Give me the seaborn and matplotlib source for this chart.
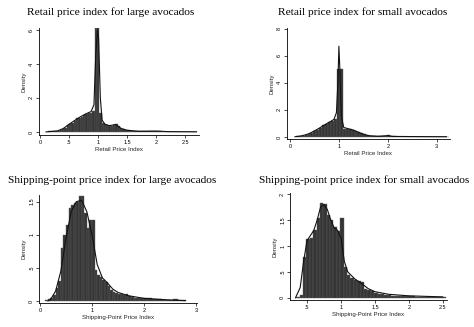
import numpy as np
import pandas as pd
import matplotlib
matplotlib.use("Agg")
import matplotlib.pyplot as plt
from matplotlib.ticker import FuncFormatter, FixedLocator
import seaborn as sns

# ---- Retail price index, large avocados ----
retail_large_start, retail_large_width = 0.14, 0.04
retail_large_density = [
    0.03, 0.03, 0.03, 0.04, 0.06, 0.10, 0.16, 0.26, 0.40, 0.46,
    0.52, 0.62, 0.82, 0.84, 0.90, 1.02, 1.05, 1.12, 1.14, 1.22,
    6.10, 6.20, 1.12, 0.52, 0.45, 0.40, 0.36, 0.33, 0.40, 0.48,
    0.35, 0.22, 0.16, 0.12, 0.09, 0.07, 0.05, 0.04, 0.04, 0.03,
    0.03, 0.03, 0.03, 0.03, 0.03, 0.04, 0.06, 0.05, 0.03, 0.02,
    0.02, 0.02, 0.02, 0.02, 0.02, 0.02, 0.01, 0.02, 0.01, 0.01,
    0.01, 0.01, 0.01, 0.01,
]
retail_large_kde_x = [0.10, 0.20, 0.30, 0.40, 0.50, 0.60, 0.70, 0.80, 0.88, 0.93,
                      0.96, 0.99, 1.01, 1.04, 1.07, 1.12, 1.20, 1.30, 1.40, 1.50,
                      1.70, 2.00, 2.20, 2.70]
retail_large_kde_y = [0.00, 0.03, 0.06, 0.20, 0.45, 0.68, 0.90, 1.08, 1.20, 1.60,
                      4.50, 6.00, 5.50, 2.00, 0.70, 0.45, 0.37, 0.44, 0.20, 0.10,
                      0.04, 0.05, 0.02, 0.01]

# ---- Retail price index, small avocados ----
retail_small_start, retail_small_width = 0.12, 0.06
retail_small_density = [
    0.04, 0.05, 0.10, 0.15, 0.22, 0.30, 0.46, 0.55, 0.68, 0.85,
    0.95, 1.08, 1.18, 1.30, 5.05, 5.05, 0.62, 0.60, 0.58, 0.52,
    0.45, 0.36, 0.28, 0.20, 0.12, 0.08, 0.06, 0.05, 0.04, 0.05,
    0.08, 0.12, 0.07, 0.04, 0.03, 0.03, 0.03, 0.03, 0.03, 0.03,
    0.03, 0.03, 0.03, 0.02, 0.02, 0.02, 0.03, 0.02, 0.02, 0.02,
    0.02, 0.02,
]
retail_small_kde_x = [0.10, 0.20, 0.30, 0.40, 0.50, 0.60, 0.70, 0.80, 0.90, 0.95,
                      0.98, 1.00, 1.02, 1.05, 1.10, 1.20, 1.30, 1.40, 1.50, 1.60,
                      1.80, 2.00, 2.10, 2.50, 3.20]
retail_small_kde_y = [0.02, 0.06, 0.14, 0.26, 0.45, 0.65, 0.88, 1.08, 1.30, 1.80,
                      4.00, 6.70, 5.00, 1.50, 0.70, 0.60, 0.50, 0.35, 0.20, 0.10,
                      0.05, 0.10, 0.04, 0.03, 0.02]

# ---- Shipping-point price index, large avocados ----
ship_large_start, ship_large_width = 0.10, 0.05
ship_large_density = [
    0.01, 0.03, 0.05, 0.09, 0.20, 0.30, 0.80, 1.00, 1.15, 1.40,
    1.45, 1.48, 1.50, 1.59, 1.59, 1.33, 1.10, 1.23, 1.23, 0.47,
    0.40, 0.36, 0.32, 0.29, 0.22, 0.16, 0.13, 0.12, 0.11, 0.10,
    0.09, 0.10, 0.08, 0.06, 0.05, 0.05, 0.04, 0.04, 0.05, 0.04,
    0.04, 0.03, 0.03, 0.03, 0.03, 0.02, 0.02, 0.02, 0.02, 0.03,
    0.03, 0.02, 0.01, 0.01,
]
ship_large_kde_x = [0.15, 0.20, 0.30, 0.40, 0.50, 0.60, 0.70, 0.80, 0.90, 1.00,
                    1.10, 1.20, 1.30, 1.40, 1.50, 1.70, 2.00, 2.40, 2.80]
ship_large_kde_y = [0.00, 0.02, 0.15, 0.45, 0.95, 1.35, 1.50, 1.52, 1.35, 1.00,
                    0.55, 0.35, 0.27, 0.18, 0.13, 0.08, 0.04, 0.02, 0.005]

# ---- Shipping-point price index, small avocados ----
ship_small_start, ship_small_width = 0.34, 0.05
ship_small_density = [
    0.02, 0.05, 0.78, 1.13, 1.16, 1.31, 1.53, 1.82, 1.80, 1.60,
    1.50, 1.37, 1.28, 1.53, 0.60, 0.45, 0.38, 0.35, 0.33, 0.30,
    0.18, 0.16, 0.14, 0.10, 0.08, 0.07, 0.06, 0.05, 0.04, 0.04,
    0.04, 0.04, 0.03, 0.03, 0.03, 0.02, 0.02, 0.02, 0.02, 0.02,
    0.02, 0.02, 0.01, 0.01,
]
ship_small_kde_x = [0.33, 0.40, 0.45, 0.50, 0.55, 0.60, 0.65, 0.70, 0.75, 0.80,
                    0.85, 0.90, 0.95, 1.00, 1.05, 1.10, 1.20, 1.30, 1.40, 1.50,
                    1.70, 2.00, 2.50]
ship_small_kde_y = [0.00, 0.20, 0.70, 1.10, 1.20, 1.30, 1.50, 1.75, 1.80, 1.70,
                    1.50, 1.35, 1.30, 1.15, 0.70, 0.50, 0.37, 0.28, 0.18, 0.12,
                    0.07, 0.04, 0.02]

titles = [
    "Retail price index for large avocados",
    "Retail price index for small avocados",
    "Shipping-point price index for large avocados",
    "Shipping-point price index for small avocados",
]
xlabels = ["Retail Price Index", "Retail Price Index",
           "Shipping-Point Price Index", "Shipping-Point Price Index"]
xticks = [[0, 0.5, 1, 1.5, 2, 2.5], [0, 1, 2, 3], [0, 1, 2, 3], [0.5, 1, 1.5, 2, 2.5]]
yticks = [[0, 2, 4, 6], [0, 2, 4, 6, 8], [0, 0.5, 1, 1.5], [0, 0.5, 1, 1.5, 2]]

panels = [
    (retail_large_start, retail_large_width, retail_large_density,
     retail_large_kde_x, retail_large_kde_y),
    (retail_small_start, retail_small_width, retail_small_density,
     retail_small_kde_x, retail_small_kde_y),
    (ship_large_start, ship_large_width, ship_large_density,
     ship_large_kde_x, ship_large_kde_y),
    (ship_small_start, ship_small_width, ship_small_density,
     ship_small_kde_x, ship_small_kde_y),
]

# axes rectangles (figure fractions) and data limits
W, H = 474, 327
rects = [
    (39 / W, 1 - 135 / H, 160 / W, 107 / H),
    (287 / W, 1 - 139 / H, 163 / W, 111 / H),
    (39 / W, 1 - 303 / H, 158 / W, 108 / H),
    (290 / W, 1 - 300 / H, 157 / W, 107 / H),
]
xlims = [(-0.017, 2.74), (-0.06, 3.27), (-0.02, 3.02), (0.25, 2.56)]
ylims = [(-0.18, 6.12), (-0.15, 8.05), (-0.03, 1.6), (-0.04, 2.02)]
title_pos = [(111, 12), (363, 12), (112, 180), (364, 180)]

sns.set_theme(style="white")
plt.rcParams["font.family"] = ["Liberation Sans", "DejaVu Sans"]

fig = plt.figure(figsize=(W / 100, H / 100), dpi=100)
fig.patch.set_facecolor("white")


def stata_fmt(v, _pos):
    s = f"{v:g}"
    if s.startswith("0."):
        s = s[1:]
    return s


for i, (start, width, dens, kx, ky) in enumerate(panels):
    ax = fig.add_axes(rects[i])
    n = len(dens)
    edges = list(start + width * np.arange(n + 1))
    centers = [(a + b) / 2 for a, b in zip(edges[:-1], edges[1:])]
    hist_df = pd.DataFrame({"index": centers, "density": dens})
    sns.histplot(data=hist_df, x="index", weights="density", bins=edges,
                 stat="count", color="#353535", edgecolor="#5e5e5e",
                 linewidth=0.3, alpha=1.0, ax=ax)
    kde_df = pd.DataFrame({"index": kx, "density": ky})
    sns.lineplot(data=kde_df, x="index", y="density", color="#111111",
                 linewidth=0.8, ax=ax, sort=False)
    ax.set_xlim(*xlims[i])
    ax.set_ylim(*ylims[i])
    ax.set_facecolor("white")
    for side in ("top", "right"):
        ax.spines[side].set_visible(False)
    for side in ("left", "bottom"):
        ax.spines[side].set_color("black")
        ax.spines[side].set_linewidth(0.6)
    ax.xaxis.set_major_locator(FixedLocator(xticks[i]))
    ax.yaxis.set_major_locator(FixedLocator(yticks[i]))
    ax.xaxis.set_major_formatter(FuncFormatter(stata_fmt))
    ax.yaxis.set_major_formatter(FuncFormatter(stata_fmt))
    ax.tick_params(axis="both", direction="out", length=2, width=0.5,
                   labelsize=4, pad=1.5, colors="black",
                   bottom=True, left=True)
    for lab in ax.get_yticklabels():
        lab.set_rotation(90)
        lab.set_va("center")
    ax.set_xlabel(xlabels[i], fontsize=4.4, labelpad=1.5)
    ax.set_ylabel("Density", fontsize=4.4, labelpad=2)
    tx, ty = title_pos[i]
    fig.text(tx / W, 1 - ty / H, titles[i], ha="center", va="center",
             fontsize=8.2, family=["Liberation Serif", "DejaVu Serif"],
             color="black")

fig.savefig("out.png", dpi=100, facecolor="white")
